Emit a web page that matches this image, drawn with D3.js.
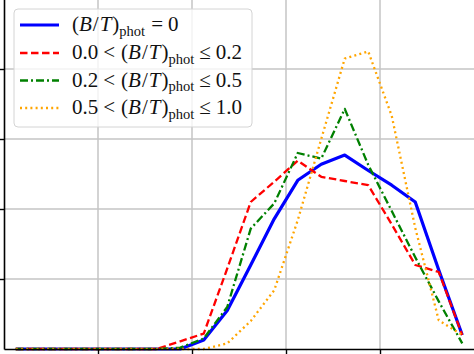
<!DOCTYPE html>
<html>
<head>
<meta charset="utf-8">
<script src="https://cdn.jsdelivr.net/npm/d3@7"></script>
<style>
  html, body { margin: 0; padding: 0; background: #fff; }
  svg { display: block; }
</style>
</head>
<body>
<svg id="chart" width="474" height="354"></svg>
<script>
// bin centres (20 bins of width 0.25) and tick positions
const bins = d3.range(20).map(i => 0.125 + 0.25 * i);
const xTicks = [1, 2, 3, 4];
const yTicks = [1, 2, 3, 4];

const bt0    = [0, 0, 0, 0, 0, 0, 0, 0,    0.13, 0.55, 1.20, 1.86, 2.41, 2.64, 2.77, 2.55, 2.34, 2.10, 1.13, 0.20];
const bt0002 = [0, 0, 0, 0, 0, 0, 0, 0.11, 0.22, 1.15, 2.10, 2.39, 2.69, 2.46, 2.40, 2.34, 1.78, 1.20, 1.10, 0.20];
const bt0205 = [0, 0, 0, 0, 0, 0, 0, 0.02, 0.15, 0.60, 1.72, 2.08, 2.80, 2.72, 3.43, 2.63, 1.97, 1.31, 0.68, 0.08];
const bt0510 = [0, 0, 0, 0, 0, 0, 0, 0,    0,    0.08, 0.40, 0.84, 1.84, 3.00, 4.15, 4.25, 3.33, 1.73, 0.41, 0.20];

const seriesNames = ['eq', '0.0|0.2', '0.2|0.5', '0.5|1.0'];
const seriesValues = [bt0, bt0002, bt0205, bt0510];

const styles = [
  { color: '#0000ff', width: 3.2, dash: null },
  { color: '#ff0000', width: 2.3, dash: '7.5,3.5' },
  { color: '#008000', width: 2.3, dash: '8,3,2,3' },
  { color: '#ffa500', width: 2.3, dash: '2,3.2' }
];

const svg = d3.select('#chart');
const x = d3.scaleLinear().domain([0, 5]).range([4, 474]);
const y = d3.scaleLinear().domain([0, 5]).range([349, -1]);

// grid
svg.append('g')
  .selectAll('line.vg')
  .data(xTicks).enter().append('line')
    .attr('x1', d => x(d)).attr('x2', d => x(d))
    .attr('y1', y(5)).attr('y2', y(0))
    .attr('stroke', '#c4c4c4').attr('stroke-width', 1.5);
svg.append('g')
  .selectAll('line.hg')
  .data(yTicks).enter().append('line')
    .attr('x1', x(0)).attr('x2', x(5))
    .attr('y1', d => y(d)).attr('y2', d => y(d))
    .attr('stroke', '#c4c4c4').attr('stroke-width', 1.5);

// lines
const line = d3.line().x((d, i) => x(bins[i])).y(d => y(d));
seriesValues.forEach((vals, k) => {
  svg.append('path')
    .datum(vals)
    .attr('d', line)
    .attr('fill', 'none')
    .attr('stroke', styles[k].color)
    .attr('stroke-width', styles[k].width)
    .attr('stroke-dasharray', styles[k].dash)
    .attr('stroke-linejoin', 'round');
});

// axes (no labels visible in the crop)
const xAxis = svg.append('g')
  .attr('transform', `translate(0,${y(0)})`)
  .call(d3.axisBottom(x).tickValues(xTicks).tickSize(5).tickSizeOuter(0).tickFormat(''));
const yAxis = svg.append('g')
  .attr('transform', `translate(${x(0)},0)`)
  .call(d3.axisLeft(y).tickValues(yTicks).tickSize(4).tickSizeOuter(0).tickFormat(''));
[xAxis, yAxis].forEach(a => {
  a.select('.domain').attr('stroke', '#000').attr('stroke-width', 1.6);
  a.selectAll('.tick line').attr('stroke', '#000').attr('stroke-width', 1.4);
});

// legend
const leg = svg.append('g');
leg.append('rect')
  .attr('x', 14).attr('y', 9).attr('width', 238).attr('height', 118)
  .attr('rx', 4)
  .attr('fill', '#fff').attr('fill-opacity', 0.8)
  .attr('stroke', '#d4d4d4').attr('stroke-width', 1);

const rowY = [25, 53, 80.5, 108];
const fontFam = '"Liberation Serif", "DejaVu Serif", serif';

seriesNames.forEach((name, k) => {
  const cy = rowY[k];
  leg.append('line')
    .attr('x1', 20).attr('x2', 59)
    .attr('y1', cy).attr('y2', cy)
    .attr('stroke', styles[k].color)
    .attr('stroke-width', styles[k].width)
    .attr('stroke-dasharray', styles[k].dash);

  const t = leg.append('text')
    .attr('x', 72).attr('y', cy + 6)
    .attr('font-family', fontFam)
    .attr('font-size', 21)
    .attr('fill', '#111');

  let lo = null, hi = null;
  if (name !== 'eq') [lo, hi] = name.split('|');
  if (lo) {
    t.append('tspan').text(lo);
    t.append('tspan').attr('dx', 5).text('<');
    t.append('tspan').attr('dx', 6).text('(');
  } else {
    t.append('tspan').text('(');
  }
  t.append('tspan').attr('font-style', 'italic').text('B');
  t.append('tspan').attr('dx', 1).text('/');
  t.append('tspan').attr('dx', 1).attr('font-style', 'italic').text('T');
  t.append('tspan').attr('dx', 1).text(')');
  t.append('tspan').attr('font-size', 14.5).attr('dy', 4.5).text('phot');
  if (lo) {
    t.append('tspan').attr('dx', 5).attr('dy', -4.5).text('\u2264');
    t.append('tspan').attr('dx', 5).text(hi);
  } else {
    t.append('tspan').attr('dx', 6).attr('dy', -4.5).text('=');
    t.append('tspan').attr('dx', 5).text('0');
  }
});
</script>
</body>
</html>
